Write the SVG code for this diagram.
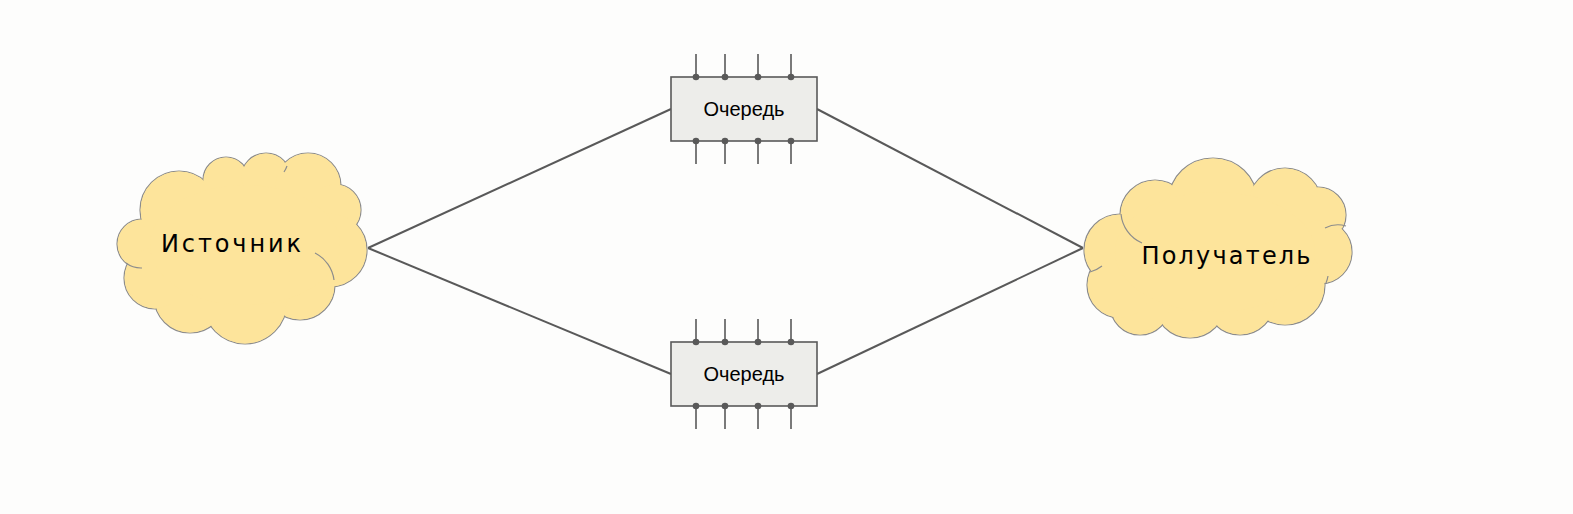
<svg xmlns="http://www.w3.org/2000/svg" width="1573" height="514" viewBox="0 0 1573 514">
<style>
.bg{fill:#fdfdfc}
.cs{fill:#fde49b;stroke:#8c8c8c;stroke-width:1.2}
.cf{fill:#fde49b;stroke:none}
.ci{fill:none;stroke:#8c8c8c;stroke-width:1.2}
.edge{fill:none;stroke:#595959;stroke-width:2}
.q{fill:#ededea;stroke:#595959;stroke-width:1.6}
.pin{stroke:#595959;stroke-width:1.6}
.dot{fill:#595959}
.ql{font-family:"Liberation Sans",Arial,sans-serif;font-size:20px;fill:#000;text-anchor:middle;dominant-baseline:central}
.cl{font-family:"DejaVu Sans",sans-serif;font-size:24px;fill:#000;text-anchor:middle;dominant-baseline:central}
</style>
<defs>
<g id="pins">
<line class="pin" x1="0" y1="0" x2="0" y2="23"/><line class="pin" x1="29" y1="0" x2="29" y2="23"/><line class="pin" x1="62" y1="0" x2="62" y2="23"/><line class="pin" x1="95" y1="0" x2="95" y2="23"/>
</g>
<g id="dots">
<circle class="dot" cx="0" cy="0" r="3.3"/><circle class="dot" cx="29" cy="0" r="3.3"/><circle class="dot" cx="62" cy="0" r="3.3"/><circle class="dot" cx="95" cy="0" r="3.3"/>
</g>
</defs>
<rect class="bg" x="0" y="0" width="1573" height="514"/>

<g id="connectors">
<line class="edge" x1="368" y1="248" x2="671" y2="109"/>
<line class="edge" x1="368" y1="248" x2="671" y2="374"/>
<line class="edge" x1="817" y1="109" x2="1083" y2="248"/>
<line class="edge" x1="817" y1="374" x2="1083" y2="248"/>
</g>

<g id="source">
<circle class="cs" cx="142" cy="244" r="25"/>
<circle class="cs" cx="179" cy="210" r="39"/>
<circle class="cs" cx="226" cy="180" r="23"/>
<circle class="cs" cx="266" cy="178" r="25"/>
<circle class="cs" cx="308" cy="186" r="33"/>
<circle class="cs" cx="335" cy="210" r="26"/>
<circle class="cs" cx="330" cy="250" r="37"/>
<circle class="cs" cx="300" cy="285" r="35"/>
<circle class="cs" cx="245" cy="302" r="42"/>
<circle class="cs" cx="190" cy="297" r="36"/>
<circle class="cs" cx="155" cy="278" r="31"/>
<circle class="cf" cx="142" cy="244" r="24.4"/>
<circle class="cf" cx="179" cy="210" r="38.4"/>
<circle class="cf" cx="226" cy="180" r="22.4"/>
<circle class="cf" cx="266" cy="178" r="24.4"/>
<circle class="cf" cx="308" cy="186" r="32.4"/>
<circle class="cf" cx="335" cy="210" r="25.4"/>
<circle class="cf" cx="330" cy="250" r="36.4"/>
<circle class="cf" cx="300" cy="285" r="34.4"/>
<circle class="cf" cx="245" cy="302" r="41.4"/>
<circle class="cf" cx="190" cy="297" r="35.4"/>
<circle class="cf" cx="155" cy="278" r="30.4"/>
<ellipse class="cf" cx="245" cy="245" rx="95" ry="60"/>
<path class="ci" d="M315,253 A35,35 0 0 1 334,280"/>
<path class="ci" d="M142,268 A25,25 0 0 1 126,263"/>
<path class="ci" d="M287,166 A25,25 0 0 1 284,172"/>
<text class="cl" x="231" y="244" textLength="140" lengthAdjust="spacing">Источник</text>
</g>

<g id="queue1">
<use href="#pins" x="696" y="54"/>
<use href="#pins" x="696" y="141"/>
<rect class="q" x="671" y="77" width="146" height="64"/>
<use href="#dots" x="696" y="77"/>
<use href="#dots" x="696" y="141"/>
<text class="ql" x="744" y="109">Очередь</text>
</g>

<g id="queue2">
<use href="#pins" x="696" y="319"/>
<use href="#pins" x="696" y="406"/>
<rect class="q" x="671" y="342" width="146" height="64"/>
<use href="#dots" x="696" y="342"/>
<use href="#dots" x="696" y="406"/>
<text class="ql" x="744" y="374">Очередь</text>
</g>

<g id="target">
<circle class="cs" cx="1120" cy="250" r="36"/>
<circle class="cs" cx="1155" cy="215" r="35"/>
<ellipse class="cs" cx="1213" cy="200" rx="44" ry="42"/>
<circle class="cs" cx="1285" cy="205" r="37"/>
<circle class="cs" cx="1318" cy="215" r="28"/>
<circle class="cs" cx="1320" cy="252" r="32"/>
<circle class="cs" cx="1285" cy="285" r="40"/>
<circle class="cs" cx="1240" cy="300" r="35"/>
<circle class="cs" cx="1190" cy="302" r="36"/>
<circle class="cs" cx="1140" cy="305" r="30"/>
<circle class="cs" cx="1120" cy="285" r="33"/>
<circle class="cf" cx="1120" cy="250" r="35.4"/>
<circle class="cf" cx="1155" cy="215" r="34.4"/>
<ellipse class="cf" cx="1213" cy="200" rx="43.4" ry="41.4"/>
<circle class="cf" cx="1285" cy="205" r="36.4"/>
<circle class="cf" cx="1318" cy="215" r="27.4"/>
<circle class="cf" cx="1320" cy="252" r="31.4"/>
<circle class="cf" cx="1285" cy="285" r="39.4"/>
<circle class="cf" cx="1240" cy="300" r="34.4"/>
<circle class="cf" cx="1190" cy="302" r="35.4"/>
<circle class="cf" cx="1140" cy="305" r="29.4"/>
<circle class="cf" cx="1120" cy="285" r="32.4"/>
<ellipse class="cf" cx="1215" cy="252" rx="100" ry="60"/>
<path class="ci" d="M1121,214 A35,35 0 0 0 1142,243"/>
<path class="ci" d="M1325,228 A28,28 0 0 1 1346,226"/>
<path class="ci" d="M1328,276 A32,32 0 0 1 1326,283"/>
<path class="ci" d="M1102,266 A33,33 0 0 1 1090,272"/>
<text class="cl" x="1226" y="256" textLength="169" lengthAdjust="spacing">Получатель</text>
</g>
</svg>
